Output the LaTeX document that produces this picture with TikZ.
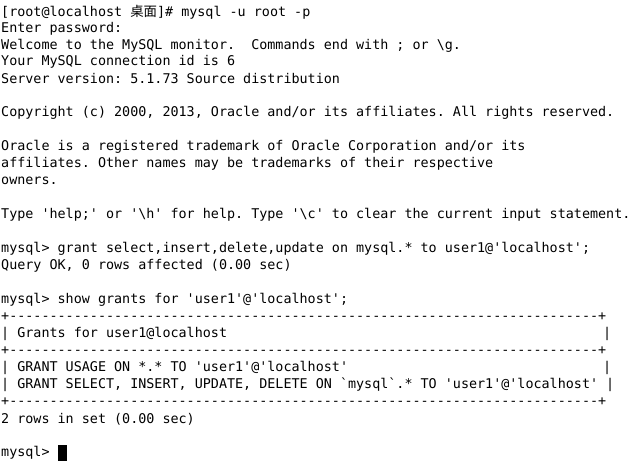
\documentclass[tikz,border=0pt]{standalone}
\usepackage{fontspec}
\setmonofont{DejaVu Sans Mono}
\newfontfamily\cjk{Noto Sans CJK SC}
\begin{document}
\begin{tikzpicture}[x=1pt,y=1pt,
  ln/.style={anchor=west,inner sep=0pt,font=\ttfamily\fontsize{13.4}{14}\selectfont}]
\useasboundingbox[fill=white] (0,0) rectangle (629,462);
\node[ln] (l1) at (1,450) {[root@localhost {\cjk 桌面}]\# mysql -u root -p};
\node[ln] (l2) at (1,433) {Enter password:};
\node[ln] (l3) at (1,416) {Welcome to the MySQL monitor.~~Commands end with ; or \textbackslash g.};
\node[ln] (l4) at (1,400) {Your MySQL connection id is 6};
\node[ln] (l5) at (1,383) {Server version: 5.1.73 Source distribution};
\node[ln] (l6) at (1,349) {Copyright (c) 2000, 2013, Oracle and/or its affiliates. All rights reserved.};
\node[ln] (l7) at (1,315) {Oracle is a registered trademark of Oracle Corporation and/or its};
\node[ln] (l8) at (1,298) {affiliates. Other names may be trademarks of their respective};
\node[ln] (l9) at (1,281) {owners.};
\node[ln] (l10) at (1,247) {Type 'help;' or '\textbackslash h' for help. Type '\textbackslash c' to clear the current input statement.};
\node[ln] (l11) at (1,213) {mysql> grant select,insert,delete,update on mysql.* to user1@'localhost';};
\node[ln] (l12) at (1,196) {Query OK, 0 rows affected (0.00 sec)};
\node[ln] (l13) at (1,162) {mysql> show grants for 'user1'@'localhost';};
\node[ln] (l14) at (1,145) {+-------------------------------------------------------------------------+};
\node[ln] (l15) at (1,128) {| Grants for user1@localhost};
\node[ln] (r15) at (603,128) {|};
\node[ln] (l16) at (1,111) {+-------------------------------------------------------------------------+};
\node[ln] (l17) at (1,94) {| GRANT USAGE ON *.* TO 'user1'@'localhost'};
\node[ln] (r17) at (603,94) {|};
\node[ln] (l18) at (1,77) {| GRANT SELECT, INSERT, UPDATE, DELETE ON `mysql`.* TO 'user1'@'localhost' |};
\node[ln] (l19) at (1,60) {+-------------------------------------------------------------------------+};
\node[ln] (l20) at (1,43) {2 rows in set (0.00 sec)};
\node[ln] (l21) at (1,9) {mysql>};
\fill[black] (58,1) rectangle (67,17);
\end{tikzpicture}
\end{document}
